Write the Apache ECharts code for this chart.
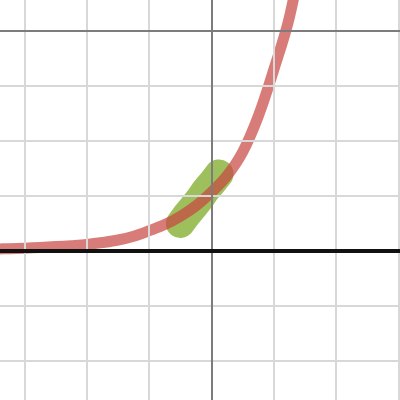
<!DOCTYPE html>
<html>
<head>
<meta charset="utf-8">
<script src="https://cdn.jsdelivr.net/npm/echarts@6/dist/echarts.min.js"></script>
<style>
  html, body { margin: 0; padding: 0; background: #fff; }
  #chart-div { width: 400px; height: 400px; }
</style>
</head>
<body>
<div id="chart-div"></div>
<script>
// ruudukon viivat (yksikköinä)
const gridXs = [-3, -2, -1, 1, 2, 3];
const gridYs = [-6, -5, -4, -3, -2, -1];
const axisXs = [0];
const axisYs = [0];
const asymptoteY = -4;

// punainen käyrä, luettu kuvasta (0.25 välein)
const curveX = [-3.5, -3.25, -3.0, -2.75, -2.5, -2.25, -2.0, -1.75, -1.5, -1.25, -1.0,
                -0.75, -0.5, -0.25, 0.0, 0.25, 0.5, 0.75, 1.0, 1.25, 1.5];
const curveY = [-3.965, -3.958, -3.948, -3.936, -3.92, -3.902, -3.88, -3.845, -3.8, -3.73, -3.63,
                -3.52, -3.37, -3.18, -2.93, -2.63, -2.2, -1.55, -0.7, 0.25, 1.7];

// vihreä paksu pätkä
const dotX = [-0.5, -0.39, -0.28, -0.18, -0.09, 0.01, 0.12];
const dotY = [-3.5, -3.33, -3.18, -3.04, -2.89, -2.76, -2.6];

const xMin = -3.395, xMax = 3.025;
const yMin = -6.709, yMax = 0.564;

function zip(xs, ys) {
    return xs.map((x, i) => [x, ys[i]]);
}

let myChart = echarts.init(document.getElementById('chart-div'));

const gridLines = [];
gridXs.forEach(v => gridLines.push({ xAxis: v }));
gridYs.forEach(v => gridLines.push({ yAxis: v }));

const axisLines = [];
axisXs.forEach(v => axisLines.push({ xAxis: v }));
axisYs.forEach(v => axisLines.push({ yAxis: v }));

const option = {
    animation: false,
    grid: { left: 0, right: 0, top: 0, bottom: 0 },
    xAxis: { type: 'value', min: xMin, max: xMax, show: false },
    yAxis: { type: 'value', min: yMin, max: yMax, show: false },
    series: [
        {
            name: 'grid',
            type: 'line',
            data: [],
            silent: true,
            markLine: {
                silent: true,
                symbol: 'none',
                label: { show: false },
                lineStyle: { color: '#d8d8d8', width: 2, type: 'solid' },
                data: gridLines
            }
        },
        {
            name: 'axes',
            type: 'line',
            data: [],
            silent: true,
            markLine: {
                silent: true,
                symbol: 'none',
                label: { show: false },
                lineStyle: { color: '#7c7c7c', width: 2, type: 'solid' },
                data: axisLines
            }
        },
        {
            name: 'asymptote',
            type: 'line',
            data: [],
            silent: true,
            markLine: {
                silent: true,
                symbol: 'none',
                label: { show: false },
                lineStyle: { color: '#111111', width: 4, type: 'solid' },
                data: [{ yAxis: asymptoteY }]
            }
        },
        {
            name: 'green',
            type: 'line',
            data: zip(dotX, dotY),
            showSymbol: false,
            lineStyle: { color: 'rgba(126,171,38,0.75)', width: 29, cap: 'round', join: 'round' }
        },
        {
            name: 'curve',
            type: 'line',
            data: zip(curveX, curveY),
            smooth: 0.35,
            showSymbol: false,
            lineStyle: { color: 'rgba(199,68,64,0.7)', width: 11, cap: 'round', join: 'round' }
        }
    ]
};

myChart.setOption(option);
</script>
</body>
</html>
